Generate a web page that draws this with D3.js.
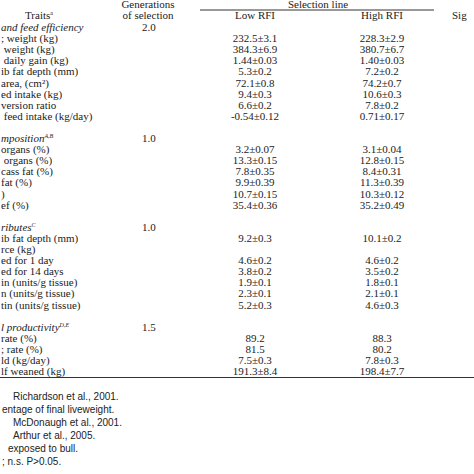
<!DOCTYPE html>
<html><head><meta charset="utf-8">
<script src="https://cdn.jsdelivr.net/npm/d3@7"></script>
<style>body{margin:0;background:#fff} text{white-space:pre}</style>
</head><body><div id="app"></div>
<script>
// table rows (visible part of label, generations, low RFI, high RFI, section flag, superscript)
const labels = [
  "and feed efficiency", "; weight (kg)", " weight (kg)", " daily gain (kg)", "ib fat depth (mm)", "area, (cm²)",
  "ed intake (kg)", "version ratio", " feed intake (kg/day)", "",
  "mposition", "organs (%)", " organs (%)", "cass fat (%)", "fat (%)", ")", "ef (%)", "",
  "ributes", "ib fat depth (mm)", "rce (kg)", "ed for 1 day", "ed for 14 days", "in (units/g tissue)", "n (units/g tissue)", "tin (units/g tissue)", "",
  "l productivity", "rate (%)", "; rate (%)", "ld (kg/day)", "lf weaned (kg)"
];
const sections = [0, 10, 18, 27];
const sectionSup = ["", "A,B", "C", "D,E"];
const generations = ["2.0", "1.0", "1.0", "1.5"];
const lowRFI = [
  "", "232.5±3.1", "384.3±6.9", "1.44±0.03", "5.3±0.2", "72.1±0.8", "9.4±0.3", "6.6±0.2", "-0.54±0.12", "",
  "", "3.2±0.07", "13.3±0.15", "7.8±0.35", "9.9±0.39", "10.7±0.15", "35.4±0.36", "",
  "", "9.2±0.3", "", "4.6±0.2", "3.8±0.2", "1.9±0.1", "2.3±0.1", "5.2±0.3", "",
  "", "89.2", "81.5", "7.5±0.3", "191.3±8.4"
];
const highRFI = [
  "", "228.3±2.9", "380.7±6.7", "1.40±0.03", "7.2±0.2", "74.2±0.7", "10.6±0.3", "7.8±0.2", "0.71±0.17", "",
  "", "3.1±0.04", "12.8±0.15", "8.4±0.31", "11.3±0.39", "10.3±0.12", "35.2±0.49", "",
  "", "10.1±0.2", "", "4.6±0.2", "3.5±0.2", "1.8±0.1", "2.1±0.1", "4.6±0.3", "",
  "", "88.3", "80.2", "7.8±0.3", "198.4±7.7"
];
const footnotes = [
  [13, "Richardson et al., 2001."],
  [2, "entage of final liveweight."],
  [13, "McDonaugh et al., 2001."],
  [13, "Arthur et al., 2005."],
  [8, "exposed to bull."],
  [2, "; n.s. P>0.05."]
];

const W = 474, H = 474;
const svg = d3.select("#app").append("svg").attr("width", W).attr("height", H)
  .style("font-family", "'Liberation Serif', 'DejaVu Serif', serif").style("font-size", "11px").attr("fill", "#222");

const y = d3.scaleLinear().domain([0, 1]).range([31, 42.1]);
const colX = { gen: 148, low: 255, high: 382 };

// header
svg.append("text").attr("x", colX.gen).attr("y", 8).attr("text-anchor", "middle").text("Generations");
svg.append("text").attr("x", colX.gen).attr("y", 19).attr("text-anchor", "middle").text("of selection");
svg.append("text").attr("x", 318).attr("y", 8).attr("text-anchor", "middle").text("Selection line");
svg.append("line").attr("x1", 200).attr("x2", 434).attr("y1", 10).attr("y2", 10).attr("stroke", "#333");
svg.append("text").attr("x", colX.low).attr("y", 19).attr("text-anchor", "middle").text("Low RFI");
svg.append("text").attr("x", colX.high).attr("y", 19).attr("text-anchor", "middle").text("High RFI");
const tr = svg.append("text").attr("x", 25).attr("y", 19).text("Traits");
tr.append("tspan").attr("dy", -4).style("font-size", "6px").text("a");
svg.append("text").attr("x", 452).attr("y", 19).text("Sig");

// rows
labels.forEach((l, i) => {
  const sIdx = sections.indexOf(i);
  const t = svg.append("text").attr("x", 1).attr("y", y(i)).attr("xml:space", "preserve").text(l);
  if (sIdx >= 0) {
    t.style("font-style", "italic");
    if (sectionSup[sIdx]) t.append("tspan").attr("dy", -4).style("font-size", "6px").text(sectionSup[sIdx]);
    svg.append("text").attr("x", 142).attr("y", y(i)).text(generations[sIdx]);
  }
  svg.append("text").attr("x", colX.low).attr("y", y(i)).attr("text-anchor", "middle").text(lowRFI[i]);
  svg.append("text").attr("x", colX.high).attr("y", y(i)).attr("text-anchor", "middle").text(highRFI[i]);
});

svg.append("line").attr("x1", 0).attr("x2", W).attr("y1", 377.5).attr("y2", 377.5).attr("stroke", "#333").attr("stroke-width", 1.2);

const fy = d3.scaleLinear().domain([0, 1]).range([400, 413]);
footnotes.forEach((f, i) => {
  svg.append("text").attr("x", f[0]).attr("y", fy(i))
    .style("font-family", "'Liberation Sans', Arial, sans-serif").style("font-size", "10px").text(f[1]);
});
</script></body></html>
